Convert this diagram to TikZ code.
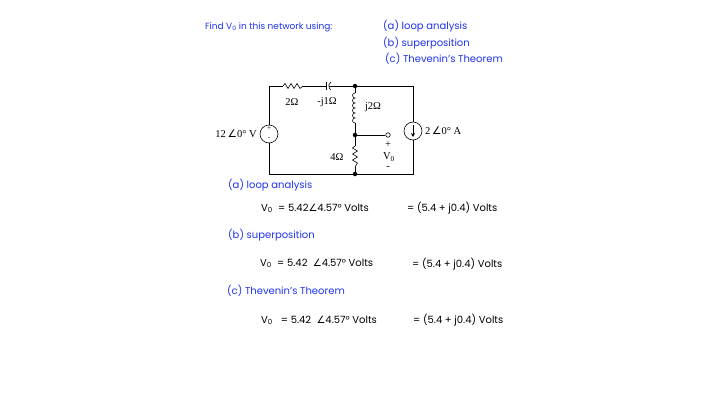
\documentclass[tikz,border=0pt]{standalone}
\usepackage{fontspec}
\setmainfont{Liberation Serif}
\newfontfamily\blue{Poppins}
\newfontfamily\djv{DejaVu Sans}
\usetikzlibrary{arrows.meta}
\definecolor{txtblue}{RGB}{30,50,240}
\newcommand{\myang}{{\djv ∠}}
\tikzset{
  bt/.style={font=\blue\fontsize{10}{11}\selectfont, text=txtblue, anchor=base west, inner sep=0},
  kt/.style={font=\blue\fontsize{10}{11}\selectfont, text=black, anchor=base west, inner sep=0},
  lab/.style={font=\fontsize{10.5}{11}\selectfont, inner sep=0},
  pm/.style={font=\fontsize{7}{7}\selectfont, inner sep=0},
  wire/.style={line width=0.6pt},
  dot/.style={circle, fill, inner sep=0, minimum size=4.5pt},
  src/.style={circle, draw, line width=0.6pt, minimum size=18pt, inner sep=0},
  term/.style={circle, draw, line width=0.6pt, fill=white, minimum size=4.5pt, inner sep=0}
}
\begin{document}
\begin{tikzpicture}[x=1pt,y=-1pt]
\useasboundingbox (0,0) rectangle (720,405);
% texts
\node[bt,font=\blue\fontsize{9}{10}\selectfont] (t1) at (205,29) {Find V\textsubscript{0} in this network using:};
\node[bt] (t2) at (383,29) {(a) loop analysis};
\node[bt] (t3) at (383,46) {(b) superposition};
\node[bt] (t4) at (385,62) {(c) Thevenin’s Theorem};
\node[bt] (a1) at (228,188) {(a) loop analysis};
\node[kt] (a2) at (261,211) {V\textsubscript{0} \ = 5.42\myang4.57° Volts};
\node[kt] (a3) at (407,211) {= (5.4 + j0.4) Volts};
\node[bt] (b1) at (228,238) {(b) superposition};
\node[kt] (b2) at (260,266) {V\textsubscript{0} \ = 5.42 \ \myang4.57° Volts};
\node[kt] (b3) at (412,267) {= (5.4 + j0.4) Volts};
\node[bt] (c1) at (227,294) {(c) Thevenin’s Theorem};
\node[kt] (c2) at (261,323) {V\textsubscript{0} \ \ = 5.42 \ \myang4.57° Volts};
\node[kt] (c3) at (413,323) {= (5.4 + j0.4) Volts};
% circuit
\coordinate (tl) at (269,86);
\coordinate (bl) at (269,174);
\coordinate (tr) at (413,86);
\coordinate (br) at (413,174);
\node[dot] (nt) at (355,86) {};
\node[dot] (nm) at (355,135) {};
\node[dot] (nb) at (355,174) {};
\node[src] (vs) at (269,134) {};
\node[src] (is) at (413,131) {};
\node[term] (vo) at (388,135) {};
\coordinate (r1a) at (283,86); \coordinate (r1b) at (303,86);
\coordinate (c1a) at (326,86);
\coordinate (la) at (355,93); \coordinate (lb) at (355,123);
\coordinate (r2a) at (355,146); \coordinate (r2b) at (355,167);
\draw[wire] (vs.north) -- (tl) -- (r1a);
\draw[wire] (r1a) -- ++(2,-2.5) -- ++(3,5) -- ++(3,-5) -- ++(3,5) -- ++(3,-5) -- ++(3,5) -- (r1b);
\draw[wire] (r1b) -- (c1a);
\draw[wire] (326,82) -- (326,90);
\draw[wire] (331,82) arc[start angle=240,end angle=120,radius=4.6];
\draw[wire] (329,86) -- (nt) -- (tr) -- (is.north);
\draw[wire] (nt) -- (la);
\draw[wire] (la) arc[start angle=270,end angle=90,radius=2.5]
  arc[start angle=270,end angle=90,radius=2.5]
  arc[start angle=270,end angle=90,radius=2.5]
  arc[start angle=270,end angle=90,radius=2.5]
  arc[start angle=270,end angle=90,radius=2.5]
  arc[start angle=270,end angle=90,radius=2.5];
\draw[wire] (lb) -- (nm) -- (r2a);
\draw[wire] (r2a) -- ++(-2.5,2) -- ++(5,3) -- ++(-5,3) -- ++(5,3) -- ++(-5,3) -- ++(5,3) -- (r2b);
\draw[wire] (r2b) -- (nb);
\draw[wire] (nm) -- (vo);
\draw[wire] (vs.south) -- (bl) -- (nb) -- (br) -- (is.south);
\draw[wire,-{Stealth[length=4pt,width=4pt]}] ([yshift=6pt]is.center) -- ([yshift=-6pt]is.center);
\node[pm] (vp) at (269,129) {+};
\node[pm] (vm) at (269,139) {-};
\node[lab,anchor=east] (vl) at (257,134) {12\,\myang0° V};
\node[lab,anchor=west] (il) at (425,131) {2\,\myang0° A};
\node[lab] (l1) at (292,102) {2Ω};
\node[lab] (l2) at (327,102) {-j1Ω};
\node[lab] (l3) at (373,107) {j2Ω};
\node[lab] (l4) at (337,157) {4Ω};
\node[lab] (op) at (388,145) {+};
\node[lab] (ov) at (389,157) {V\textsubscript{0}};
\node[lab] (om) at (388,168) {-};
\end{tikzpicture}
\end{document}
